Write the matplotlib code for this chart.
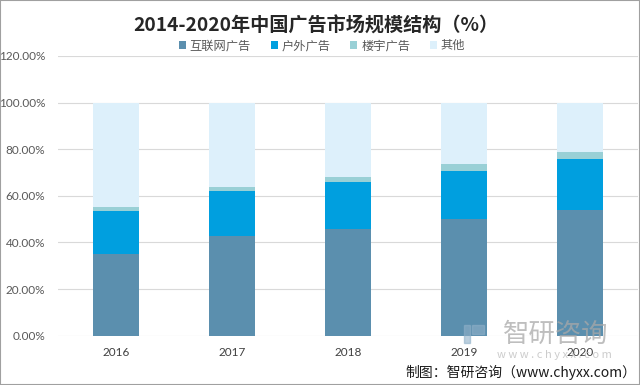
import matplotlib
matplotlib.use("Agg")
import matplotlib.pyplot as plt
from matplotlib.patches import Rectangle
import numpy as np

plt.rcParams["font.family"] = ["Noto Sans CJK SC", "DejaVu Sans"]

years = ["2016", "2017", "2018", "2019", "2020"]
internet = [35.0, 42.6, 45.9, 50.1, 54.1]
outdoor = [18.4, 19.4, 20.1, 20.6, 21.8]
building = [1.7, 1.7, 2.0, 2.8, 3.0]
other = [100 - a - b - c for a, b, c in zip(internet, outdoor, building)]

series = [
    ("互联网广告", internet, "#5b8fae"),
    ("户外广告", outdoor, "#009fdf"),
    ("楼宇广告", building, "#99d0d6"),
    ("其他", other, "#ddf0fb"),
]

fig = plt.figure(figsize=(6.4, 3.85), dpi=100)
ax = fig.add_axes([58 / 640, 49.3 / 385, 580 / 640, 279.7 / 385])

x = np.arange(len(years))
bottom = np.zeros(len(years))
handles = []
for name, vals, color in series:
    h = ax.bar(x, vals, width=0.395, bottom=bottom, color=color, label=name, zorder=2)
    handles.append(h)
    bottom += np.array(vals)

ax.set_ylim(0, 120)
ax.set_xlim(-0.5, len(years) - 0.5)
ax.set_yticks(np.arange(0, 121, 20))
ax.set_yticklabels([f"{v:.2f}%" for v in np.arange(0, 121, 20)], fontfamily="Lato")
ax.set_xticks(x)
ax.set_xticklabels(years, fontfamily="Lato")
ax.tick_params(axis="y", length=0, pad=9, labelsize=8.5, labelcolor="#595959")
ax.tick_params(axis="x", length=0, pad=8, labelsize=8.5, labelcolor="#404040")
ax.grid(axis="y", color="#d9d9d9", linewidth=0.8, zorder=0)
for s in ax.spines.values():
    s.set_visible(False)

fig.text(316 / 640, 1 - 25.7 / 385, "2014-2020年中国广告市场规模结构（%）",
         ha="center", va="center", fontsize=13.8, fontweight="bold", color="#262626")

fig.legend(handles=handles, loc="center", bbox_to_anchor=(322 / 640, 1 - 45.7 / 385),
           ncol=4, frameon=False, fontsize=8.8, labelcolor="#595959",
           handlelength=0.6, handleheight=0.6, handletextpad=0.3, columnspacing=1.6)

# watermark
fig.text(556 / 640, 1 - 334 / 385, "智研咨询", ha="center", va="center",
         fontsize=19, color="#a8a8a8", alpha=0.75, fontweight="light")
fig.text(554 / 640, 1 - 355 / 385, "w w w . c h y x x . c o m", ha="center", va="center",
         fontsize=8, color="#c0c0c0", alpha=0.8)
fig.patches.append(Rectangle((464 / 640, 1 - 343 / 385), 6 / 640, 18 / 385,
                             transform=fig.transFigure, color="#8fb0c8", alpha=0.6))
fig.patches.append(Rectangle((472 / 640, 1 - 334 / 385), 12 / 640, 9 / 385,
                             transform=fig.transFigure, color="#8fb0c8", alpha=0.6))

fig.text(636 / 640, 1 - 372.7 / 385, "制图：智研咨询（www.chyxx.com）",
         ha="right", va="center", fontsize=10, color="#1a1a1a")

fig.patches.append(Rectangle((0, 0), 1, 1, transform=fig.transFigure,
                             fill=False, edgecolor="#a0a0a0", linewidth=1.5))

fig.savefig("out.png", dpi=100)
